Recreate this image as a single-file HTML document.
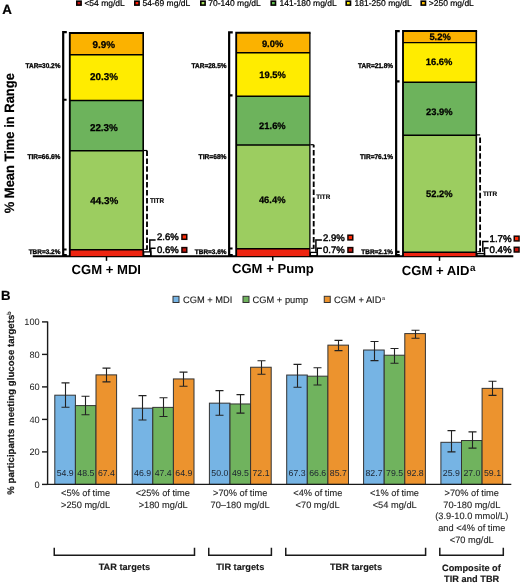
<!DOCTYPE html>
<html><head><meta charset="utf-8"><title>Figure</title>
<style>
html,body{margin:0;padding:0;background:#fff;}
body{width:520px;height:584px;overflow:hidden;}
svg{display:block;font-family:"Liberation Sans",sans-serif;text-rendering:geometricPrecision;}
</style></head><body>
<svg width="520" height="584" viewBox="0 0 520 584">
<rect width="520" height="584" fill="#fff"/>
<rect x="76.8" y="1.2" width="4.3" height="3.9" fill="#c4120e" stroke="#050201" stroke-width="1.6"/>
<text x="104.62" y="6.25" text-anchor="middle" font-size="8.5" fill="#000" stroke="#000" stroke-width="0.2">&lt;54 mg/dL</text>
<rect x="134.79999999999998" y="1.2" width="4.3" height="3.9" fill="#ff1a05" stroke="#050201" stroke-width="1.6"/>
<text x="166.35" y="6.25" text-anchor="middle" font-size="8.5" fill="#000" stroke="#000" stroke-width="0.2">54-69 mg/dL</text>
<rect x="200.79999999999998" y="1.2" width="4.3" height="3.9" fill="#a5e060" stroke="#050201" stroke-width="1.6"/>
<text x="234.50" y="6.25" text-anchor="middle" font-size="8.5" fill="#000" stroke="#000" stroke-width="0.2">70-140 mg/dL</text>
<rect x="271.2" y="1.2" width="4.3" height="3.9" fill="#5fbe4f" stroke="#050201" stroke-width="1.6"/>
<text x="308.10" y="6.25" text-anchor="middle" font-size="8.5" fill="#000" stroke="#000" stroke-width="0.2">141-180 mg/dL</text>
<rect x="346.2" y="1.2" width="4.3" height="3.9" fill="#fff000" stroke="#050201" stroke-width="1.6"/>
<text x="383.20" y="6.25" text-anchor="middle" font-size="8.5" fill="#000" stroke="#000" stroke-width="0.2">181-250 mg/dL</text>
<rect x="421.2" y="1.2" width="4.3" height="3.9" fill="#ffc000" stroke="#050201" stroke-width="1.6"/>
<text x="451.30" y="6.25" text-anchor="middle" font-size="8.5" fill="#000" stroke="#000" stroke-width="0.2">&gt;250 mg/dL</text>
<text x="7.00" y="14.25" text-anchor="middle" font-size="13.4" font-weight="bold" fill="#000" stroke="#000" stroke-width="0.2">A</text>
<text transform="translate(13.7,143.2) rotate(-90)" text-anchor="middle" font-size="13.5" textLength="140.2" lengthAdjust="spacingAndGlyphs" stroke="#000" stroke-width="0.2" font-weight="bold">% Mean Time in Range</text>
<line x1="32.8" y1="256.25" x2="513.3" y2="256.25" stroke="#000" stroke-width="2.1"/>
<rect x="69.8" y="33" width="73.4" height="22.0" fill="#fbb200"/>
<rect x="69.8" y="54.7" width="73.4" height="46.1" fill="#ffec00"/>
<rect x="69.8" y="100.5" width="73.4" height="50.6" fill="#6db35c"/>
<rect x="69.8" y="150.8" width="73.4" height="99.3" fill="#9ccd60"/>
<rect x="69.8" y="249.8" width="73.4" height="6.3" fill="#ee2410"/>
<path d="M69.8 54.7 H143.2 M69.8 100.5 H143.2 M69.8 150.8 H143.2 M69.8 249.8 H143.2" fill="none" stroke="#000" stroke-width="1.45"/>
<path d="M69.8 256.7 V33 H144.0" fill="none" stroke="#000" stroke-width="1.85"/>
<path d="M143.2 33 V256.7" fill="none" stroke="#000" stroke-width="1.6"/>
<path d="M66.8 32.2 H63.2 V255.05 H66.8" fill="none" stroke="#000" stroke-width="2.2"/>
<path d="M63.2 99.7 H66.60000000000001 M63.2 249.5 H66.60000000000001" fill="none" stroke="#000" stroke-width="2.1"/>
<line x1="106.5" y1="256.25" x2="106.5" y2="260.85" stroke="#000" stroke-width="1.5"/>
<path d="M143.7 150.5 H147.0" fill="none" stroke="#000" stroke-width="1.2"/>
<path d="M147.0 150.5 V249.8" fill="none" stroke="#000" stroke-width="1.85" stroke-dasharray="5.5 2.4" stroke-dashoffset="0"/>
<path d="M147.0 249.3 H144.2" fill="none" stroke="#000" stroke-width="1"/>
<rect x="236.2" y="32.7" width="73.7" height="20.4" fill="#fbb200"/>
<rect x="236.2" y="52.8" width="73.7" height="43.7" fill="#ffec00"/>
<rect x="236.2" y="96.2" width="73.7" height="49.1" fill="#6db35c"/>
<rect x="236.2" y="145" width="73.7" height="104.1" fill="#9ccd60"/>
<rect x="236.2" y="248.8" width="73.7" height="7.3" fill="#ee2410"/>
<path d="M236.2 52.8 H309.9 M236.2 96.2 H309.9 M236.2 145 H309.9 M236.2 248.8 H309.9" fill="none" stroke="#000" stroke-width="1.45"/>
<path d="M236.2 256.7 V32.7 H310.54999999999995" fill="none" stroke="#000" stroke-width="1.85"/>
<path d="M309.9 32.7 V256.7" fill="none" stroke="#000" stroke-width="1.3"/>
<path d="M232.75 32.3 H229.15 V255.05 H232.75" fill="none" stroke="#000" stroke-width="2.2"/>
<path d="M229.15 95.4 H232.55 M229.15 248.5 H232.55" fill="none" stroke="#000" stroke-width="2.1"/>
<line x1="272.75" y1="256.25" x2="272.75" y2="260.85" stroke="#000" stroke-width="1.5"/>
<path d="M310.4 144.7 H313.7" fill="none" stroke="#000" stroke-width="1.2"/>
<path d="M313.7 144.7 V248.8" fill="none" stroke="#000" stroke-width="1.85" stroke-dasharray="5.5 2.4" stroke-dashoffset="2.6"/>
<path d="M313.7 248.3 H310.9" fill="none" stroke="#000" stroke-width="1"/>
<rect x="403" y="31" width="73.3" height="11.9" fill="#fbb200"/>
<rect x="403" y="42.6" width="73.3" height="39.9" fill="#ffec00"/>
<rect x="403" y="82.2" width="73.3" height="53.3" fill="#6db35c"/>
<rect x="403" y="135.2" width="73.3" height="117.3" fill="#9ccd60"/>
<rect x="403" y="252.2" width="73.3" height="3.9" fill="#ee2410"/>
<path d="M403 42.6 H476.3 M403 82.2 H476.3 M403 135.2 H476.3 M403 252.2 H476.3" fill="none" stroke="#000" stroke-width="1.45"/>
<path d="M403 256.7 V31 H477.1" fill="none" stroke="#000" stroke-width="1.85"/>
<path d="M476.3 31 V256.7" fill="none" stroke="#000" stroke-width="1.6"/>
<path d="M399.75 31.1 H396.15 V255.05 H399.75" fill="none" stroke="#000" stroke-width="2.2"/>
<path d="M396.15 81.4 H399.54999999999995 M396.15 251.89999999999998 H399.54999999999995" fill="none" stroke="#000" stroke-width="2.1"/>
<line x1="439.5" y1="256.25" x2="439.5" y2="260.85" stroke="#000" stroke-width="1.5"/>
<path d="M476.8 134.89999999999998 H480.1" fill="none" stroke="#000" stroke-width="1.2"/>
<path d="M480.1 134.89999999999998 V252.2" fill="none" stroke="#000" stroke-width="1.85" stroke-dasharray="5.5 2.4" stroke-dashoffset="5.3"/>
<path d="M480.1 251.7 H477.3" fill="none" stroke="#000" stroke-width="1"/>
<text x="103.75" y="47.90" text-anchor="middle" font-size="9.9" font-weight="bold" fill="#000" stroke="#000" stroke-width="0.25">9.9%</text>
<text x="103.95" y="80.40" text-anchor="middle" font-size="9.9" font-weight="bold" fill="#000" stroke="#000" stroke-width="0.25">20.3%</text>
<text x="103.90" y="131.10" text-anchor="middle" font-size="9.9" font-weight="bold" fill="#000" stroke="#000" stroke-width="0.25">22.3%</text>
<text x="104.30" y="204.20" text-anchor="middle" font-size="9.9" font-weight="bold" fill="#000" stroke="#000" stroke-width="0.25">44.3%</text>
<text x="272.60" y="46.60" text-anchor="middle" font-size="9.4" font-weight="bold" fill="#000" stroke="#000" stroke-width="0.25">9.0%</text>
<text x="272.60" y="78.10" text-anchor="middle" font-size="9.4" font-weight="bold" fill="#000" stroke="#000" stroke-width="0.25">19.5%</text>
<text x="272.40" y="129.20" text-anchor="middle" font-size="9.4" font-weight="bold" fill="#000" stroke="#000" stroke-width="0.25">21.6%</text>
<text x="272.20" y="202.50" text-anchor="middle" font-size="9.4" font-weight="bold" fill="#000" stroke="#000" stroke-width="0.25">46.4%</text>
<text x="440.10" y="40.00" text-anchor="middle" font-size="9.4" font-weight="bold" fill="#000" stroke="#000" stroke-width="0.25">5.2%</text>
<text x="439.10" y="65.10" text-anchor="middle" font-size="9.4" font-weight="bold" fill="#000" stroke="#000" stroke-width="0.25">16.6%</text>
<text x="439.30" y="115.20" text-anchor="middle" font-size="9.4" font-weight="bold" fill="#000" stroke="#000" stroke-width="0.25">23.9%</text>
<text x="439.30" y="196.70" text-anchor="middle" font-size="9.4" font-weight="bold" fill="#000" stroke="#000" stroke-width="0.25">52.2%</text>
<text x="149.9" y="202.6" font-size="7.0" font-weight="bold" textLength="14.2" lengthAdjust="spacingAndGlyphs" stroke="#000" stroke-width="0.15">TITR</text>
<text x="316.3" y="198.8" font-size="6.6" font-weight="bold" textLength="13.9" lengthAdjust="spacingAndGlyphs" stroke="#000" stroke-width="0.15">TITR</text>
<text x="482.90000000000003" y="195.95" font-size="6.6" font-weight="bold" textLength="14.2" lengthAdjust="spacingAndGlyphs" stroke="#000" stroke-width="0.15">TITR</text>
<text x="25.5" y="67.8" font-size="7.0" font-weight="bold" textLength="34.9" lengthAdjust="spacingAndGlyphs" stroke="#000" stroke-width="0.32">TAR=30.2%</text>
<text x="27.5" y="159.3" font-size="7.0" font-weight="bold" textLength="32.9" lengthAdjust="spacingAndGlyphs" stroke="#000" stroke-width="0.32">TIR=66.6%</text>
<text x="28.7" y="253.8" font-size="6.7" font-weight="bold" textLength="31.7" lengthAdjust="spacingAndGlyphs" stroke="#000" stroke-width="0.32">TBR=3.2%</text>
<text x="191.6" y="67.8" font-size="7.0" font-weight="bold" textLength="34.9" lengthAdjust="spacingAndGlyphs" stroke="#000" stroke-width="0.32">TAR=28.5%</text>
<text x="198.6" y="159.0" font-size="7.0" font-weight="bold" textLength="27.9" lengthAdjust="spacingAndGlyphs" stroke="#000" stroke-width="0.32">TIR=68%</text>
<text x="194.8" y="253.8" font-size="6.7" font-weight="bold" textLength="31.7" lengthAdjust="spacingAndGlyphs" stroke="#000" stroke-width="0.32">TBR=3.6%</text>
<text x="358.1" y="67.8" font-size="7.0" font-weight="bold" textLength="34.9" lengthAdjust="spacingAndGlyphs" stroke="#000" stroke-width="0.32">TAR=21.8%</text>
<text x="360.1" y="159.3" font-size="7.0" font-weight="bold" textLength="32.9" lengthAdjust="spacingAndGlyphs" stroke="#000" stroke-width="0.32">TIR=76.1%</text>
<text x="361.3" y="253.8" font-size="6.7" font-weight="bold" textLength="31.7" lengthAdjust="spacingAndGlyphs" stroke="#000" stroke-width="0.32">TBR=2.1%</text>
<path d="M149.8 251.65 V239.9 H155.6" fill="none" stroke="#000" stroke-width="1.5"/>
<rect x="143.7" y="251.9" width="7.1" height="3.8" fill="#fff" stroke="#000" stroke-width="1.3"/>
<path d="M150.8 256.25 V248.2 H155.6" fill="none" stroke="#000" stroke-width="1.5"/>
<text x="167.80" y="240.40" text-anchor="middle" font-size="9.5" fill="#000" stroke="#000" stroke-width="0.45">2.6%</text>
<text x="167.80" y="253.40" text-anchor="middle" font-size="9.5" fill="#000" stroke="#000" stroke-width="0.45">0.6%</text>
<rect x="181.95" y="234.6" width="4.8" height="4.7" fill="#ff2a05" stroke="#140503" stroke-width="1.5"/>
<rect x="181.95" y="247.6" width="4.8" height="4.7" fill="#c4140c" stroke="#140503" stroke-width="1.5"/>
<path d="M315.9 251.65 V240.0 H321.9" fill="none" stroke="#000" stroke-width="1.5"/>
<rect x="310.4" y="252.4" width="6.9" height="3.3" fill="#fff" stroke="#000" stroke-width="1.3"/>
<path d="M317.3 256.25 V248.2 H321.9" fill="none" stroke="#000" stroke-width="1.5"/>
<text x="333.80" y="240.70" text-anchor="middle" font-size="9.5" fill="#000" stroke="#000" stroke-width="0.45">2.9%</text>
<text x="333.80" y="253.40" text-anchor="middle" font-size="9.5" fill="#000" stroke="#000" stroke-width="0.45">0.7%</text>
<rect x="347.95" y="235.2" width="4.8" height="4.7" fill="#ff2a05" stroke="#140503" stroke-width="1.5"/>
<rect x="347.95" y="247.6" width="4.8" height="4.7" fill="#c4140c" stroke="#140503" stroke-width="1.5"/>
<path d="M482.8 251.65 V241.5 H488.6" fill="none" stroke="#000" stroke-width="1.5"/>
<rect x="477.0" y="253.6" width="7.5" height="2.2" fill="#fff" stroke="#000" stroke-width="1.3"/>
<path d="M484.5 256.25 V248.0 H488.6" fill="none" stroke="#000" stroke-width="1.5"/>
<text x="500.55" y="241.50" text-anchor="middle" font-size="9.7" fill="#000" stroke="#000" stroke-width="0.45">1.7%</text>
<text x="500.55" y="253.10" text-anchor="middle" font-size="9.7" fill="#000" stroke="#000" stroke-width="0.45">0.4%</text>
<rect x="514.25" y="236.2" width="4.8" height="4.7" fill="#ff2a05" stroke="#140503" stroke-width="1.5"/>
<rect x="514.25" y="247.3" width="4.8" height="4.7" fill="#c4140c" stroke="#140503" stroke-width="1.5"/>
<text x="106.25" y="273.50" text-anchor="middle" font-size="13.1" font-weight="bold" fill="#000">CGM + MDI</text>
<text x="272.88" y="273.25" text-anchor="middle" font-size="13.1" font-weight="bold" fill="#000">CGM + Pump</text>
<text x="435.62" y="275.00" text-anchor="middle" font-size="13.1" font-weight="bold" fill="#000">CGM + AID</text>
<text x="472.75" y="270.50" text-anchor="middle" font-size="9.8" font-weight="bold" fill="#000">a</text>
<text x="5.72" y="299.75" text-anchor="middle" font-size="13.2" font-weight="bold" fill="#000" stroke="#000" stroke-width="0.2">B</text>
<text transform="translate(14.3,494.7) rotate(-90)" font-size="9.55" font-weight="bold" fill="#1a1a1a" textLength="179.9" lengthAdjust="spacing" stroke="#1a1a1a" stroke-width="0.2">% participants meeting glucose targets</text>
<text transform="translate(11.2,314.9) rotate(-90)" font-size="6" font-weight="bold" fill="#1a1a1a">b</text>
<rect x="173.0" y="296.3" width="6" height="6.2" fill="#76b4e4" stroke="#333" stroke-width="1"/>
<text x="207.62" y="303.00" text-anchor="middle" font-size="9.3" fill="#1a1a1a" stroke="#1a1a1a" stroke-width="0.12">CGM + MDI</text>
<rect x="243.0" y="296.3" width="6" height="6.2" fill="#70b35e" stroke="#333" stroke-width="1"/>
<text x="280.38" y="303.00" text-anchor="middle" font-size="9.3" fill="#1a1a1a" stroke="#1a1a1a" stroke-width="0.12">CGM + pump</text>
<rect x="324.25" y="296.3" width="6" height="6.2" fill="#ec932e" stroke="#333" stroke-width="1"/>
<text x="357.75" y="303.00" text-anchor="middle" font-size="9.3" fill="#1a1a1a" stroke="#1a1a1a" stroke-width="0.12">CGM + AID</text>
<text x="383.50" y="300.00" text-anchor="middle" font-size="5.5" fill="#1a1a1a">a</text>
<line x1="42" x2="47.6" y1="484.4" y2="484.4" stroke="#1a1a1a" stroke-width="1.4"/>
<text x="39.7" y="487.8" text-anchor="end" font-size="9.25" fill="#1a1a1a">0</text>
<line x1="42" x2="47.6" y1="451.9" y2="451.9" stroke="#1a1a1a" stroke-width="1.4"/>
<text x="39.7" y="455.3" text-anchor="end" font-size="9.25" fill="#1a1a1a">20</text>
<line x1="42" x2="47.6" y1="419.4" y2="419.4" stroke="#1a1a1a" stroke-width="1.4"/>
<text x="39.7" y="422.8" text-anchor="end" font-size="9.25" fill="#1a1a1a">40</text>
<line x1="42" x2="47.6" y1="386.9" y2="386.9" stroke="#1a1a1a" stroke-width="1.4"/>
<text x="39.7" y="390.3" text-anchor="end" font-size="9.25" fill="#1a1a1a">60</text>
<line x1="42" x2="47.6" y1="354.4" y2="354.4" stroke="#1a1a1a" stroke-width="1.4"/>
<text x="39.7" y="357.8" text-anchor="end" font-size="9.25" fill="#1a1a1a">80</text>
<line x1="42" x2="47.6" y1="321.9" y2="321.9" stroke="#1a1a1a" stroke-width="1.4"/>
<text x="39.7" y="325.3" text-anchor="end" font-size="9.25" fill="#1a1a1a">100</text>
<rect x="54.80" y="395.19" width="20.6" height="89.21" fill="#76b4e4" stroke="#333" stroke-width="1"/>
<rect x="75.40" y="405.59" width="20.6" height="78.81" fill="#70b35e" stroke="#333" stroke-width="1"/>
<rect x="96.00" y="374.88" width="20.6" height="109.52" fill="#ec932e" stroke="#333" stroke-width="1"/>
<path d="M65.5 382.9 V407.3 M61.50 382.9 H69.50 M61.50 407.3 H69.50" fill="none" stroke="#222" stroke-width="1.1"/>
<text x="65.20" y="476.1" text-anchor="middle" font-size="8.75" fill="#1c2430">54.9</text>
<path d="M85.5 396.2 V414.8 M81.50 396.2 H89.50 M81.50 414.8 H89.50" fill="none" stroke="#222" stroke-width="1.1"/>
<text x="85.80" y="476.1" text-anchor="middle" font-size="8.75" fill="#1c2430">48.5</text>
<path d="M106.5 368.1 V381.9 M102.50 368.1 H110.50 M102.50 381.9 H110.50" fill="none" stroke="#222" stroke-width="1.1"/>
<text x="106.40" y="476.1" text-anchor="middle" font-size="8.75" fill="#1c2430">67.4</text>
<rect x="132.20" y="408.19" width="20.6" height="76.21" fill="#76b4e4" stroke="#333" stroke-width="1"/>
<rect x="152.80" y="407.38" width="20.6" height="77.02" fill="#70b35e" stroke="#333" stroke-width="1"/>
<rect x="173.40" y="378.94" width="20.6" height="105.46" fill="#ec932e" stroke="#333" stroke-width="1"/>
<path d="M142.5 395.6 V420.0 M138.50 395.6 H146.50 M138.50 420.0 H146.50" fill="none" stroke="#222" stroke-width="1.1"/>
<text x="142.60" y="476.1" text-anchor="middle" font-size="8.75" fill="#1c2430">46.9</text>
<path d="M163.5 397.7 V416.5 M159.50 397.7 H167.50 M159.50 416.5 H167.50" fill="none" stroke="#222" stroke-width="1.1"/>
<text x="163.20" y="476.1" text-anchor="middle" font-size="8.75" fill="#1c2430">47.4</text>
<path d="M183.5 372.1 V386.2 M179.50 372.1 H187.50 M179.50 386.2 H187.50" fill="none" stroke="#222" stroke-width="1.1"/>
<text x="183.80" y="476.1" text-anchor="middle" font-size="8.75" fill="#1c2430">64.9</text>
<rect x="209.40" y="403.15" width="20.6" height="81.25" fill="#76b4e4" stroke="#333" stroke-width="1"/>
<rect x="230.00" y="403.96" width="20.6" height="80.44" fill="#70b35e" stroke="#333" stroke-width="1"/>
<rect x="250.60" y="367.24" width="20.6" height="117.16" fill="#ec932e" stroke="#333" stroke-width="1"/>
<path d="M219.5 390.6 V415.2 M215.50 390.6 H223.50 M215.50 415.2 H223.50" fill="none" stroke="#222" stroke-width="1.1"/>
<text x="219.80" y="476.1" text-anchor="middle" font-size="8.75" fill="#1c2430">50.0</text>
<path d="M240.5 394.6 V413.1 M236.50 394.6 H244.50 M236.50 413.1 H244.50" fill="none" stroke="#222" stroke-width="1.1"/>
<text x="240.40" y="476.1" text-anchor="middle" font-size="8.75" fill="#1c2430">49.5</text>
<path d="M261.5 360.8 V374.2 M257.50 360.8 H265.50 M257.50 374.2 H265.50" fill="none" stroke="#222" stroke-width="1.1"/>
<text x="261.00" y="476.1" text-anchor="middle" font-size="8.75" fill="#1c2430">72.1</text>
<rect x="286.70" y="375.04" width="20.6" height="109.36" fill="#76b4e4" stroke="#333" stroke-width="1"/>
<rect x="307.30" y="376.17" width="20.6" height="108.23" fill="#70b35e" stroke="#333" stroke-width="1"/>
<rect x="327.90" y="345.14" width="20.6" height="139.26" fill="#ec932e" stroke="#333" stroke-width="1"/>
<path d="M297.5 364.4 V387.3 M293.50 364.4 H301.50 M293.50 387.3 H301.50" fill="none" stroke="#222" stroke-width="1.1"/>
<text x="297.10" y="476.1" text-anchor="middle" font-size="8.75" fill="#1c2430">67.3</text>
<path d="M317.5 367.7 V385.0 M313.50 367.7 H321.50 M313.50 385.0 H321.50" fill="none" stroke="#222" stroke-width="1.1"/>
<text x="317.70" y="476.1" text-anchor="middle" font-size="8.75" fill="#1c2430">66.6</text>
<path d="M338.5 340.4 V350.6 M334.50 340.4 H342.50 M334.50 350.6 H342.50" fill="none" stroke="#222" stroke-width="1.1"/>
<text x="338.30" y="476.1" text-anchor="middle" font-size="8.75" fill="#1c2430">85.7</text>
<rect x="363.60" y="350.01" width="20.6" height="134.39" fill="#76b4e4" stroke="#333" stroke-width="1"/>
<rect x="384.20" y="355.21" width="20.6" height="129.19" fill="#70b35e" stroke="#333" stroke-width="1"/>
<rect x="404.80" y="333.60" width="20.6" height="150.80" fill="#ec932e" stroke="#333" stroke-width="1"/>
<path d="M374.5 341.5 V360.6 M370.50 341.5 H378.50 M370.50 360.6 H378.50" fill="none" stroke="#222" stroke-width="1.1"/>
<text x="374.00" y="476.1" text-anchor="middle" font-size="8.75" fill="#1c2430">82.7</text>
<path d="M394.5 348.5 V363.3 M390.50 348.5 H398.50 M390.50 363.3 H398.50" fill="none" stroke="#222" stroke-width="1.1"/>
<text x="394.60" y="476.1" text-anchor="middle" font-size="8.75" fill="#1c2430">79.5</text>
<path d="M415.5 330.2 V338.3 M411.50 330.2 H419.50 M411.50 338.3 H419.50" fill="none" stroke="#222" stroke-width="1.1"/>
<text x="415.20" y="476.1" text-anchor="middle" font-size="8.75" fill="#1c2430">92.8</text>
<rect x="440.90" y="442.31" width="20.6" height="42.09" fill="#76b4e4" stroke="#333" stroke-width="1"/>
<rect x="461.50" y="440.52" width="20.6" height="43.88" fill="#70b35e" stroke="#333" stroke-width="1"/>
<rect x="482.10" y="388.36" width="20.6" height="96.04" fill="#ec932e" stroke="#333" stroke-width="1"/>
<path d="M451.5 430.6 V451.9 M447.50 430.6 H455.50 M447.50 451.9 H455.50" fill="none" stroke="#222" stroke-width="1.1"/>
<text x="451.30" y="476.1" text-anchor="middle" font-size="8.75" fill="#1c2430">25.9</text>
<path d="M472.5 431.9 V448.1 M468.50 431.9 H476.50 M468.50 448.1 H476.50" fill="none" stroke="#222" stroke-width="1.1"/>
<text x="471.90" y="476.1" text-anchor="middle" font-size="8.75" fill="#1c2430">27.0</text>
<path d="M492.5 381.2 V395.4 M488.50 381.2 H496.50 M488.50 395.4 H496.50" fill="none" stroke="#222" stroke-width="1.1"/>
<text x="492.50" y="476.1" text-anchor="middle" font-size="8.75" fill="#1c2430">59.1</text>
<path d="M47.6 321.4 V484.4 H511.3" fill="none" stroke="#1a1a1a" stroke-width="1.4"/>
<text x="85.55" y="496.30" text-anchor="middle" font-size="9.25" fill="#262626" stroke="#262626" stroke-width="0.12">&lt;5% of time</text>
<text x="85.55" y="507.90" text-anchor="middle" font-size="9.25" fill="#262626" stroke="#262626" stroke-width="0.12">&gt;250 mg/dL</text>
<text x="162.80" y="496.30" text-anchor="middle" font-size="9.25" fill="#262626" stroke="#262626" stroke-width="0.12">&lt;25% of time</text>
<text x="163.20" y="507.90" text-anchor="middle" font-size="9.25" fill="#262626" stroke="#262626" stroke-width="0.12">&gt;180 mg/dL</text>
<text x="240.20" y="496.30" text-anchor="middle" font-size="9.25" fill="#262626" stroke="#262626" stroke-width="0.12">&gt;70% of time</text>
<text x="240.10" y="507.90" text-anchor="middle" font-size="9.25" fill="#262626" stroke="#262626" stroke-width="0.12">70–180 mg/dL</text>
<text x="317.80" y="496.30" text-anchor="middle" font-size="9.25" fill="#262626" stroke="#262626" stroke-width="0.12">&lt;4% of time</text>
<text x="317.60" y="507.90" text-anchor="middle" font-size="9.25" fill="#262626" stroke="#262626" stroke-width="0.12">&lt;70 mg/dL</text>
<text x="394.45" y="496.30" text-anchor="middle" font-size="9.25" fill="#262626" stroke="#262626" stroke-width="0.12">&lt;1% of time</text>
<text x="394.70" y="507.90" text-anchor="middle" font-size="9.25" fill="#262626" stroke="#262626" stroke-width="0.12">&lt;54 mg/dL</text>
<text x="471.70" y="496.30" text-anchor="middle" font-size="9.25" fill="#262626" stroke="#262626" stroke-width="0.12">&gt;70% of time</text>
<text x="471.85" y="507.90" text-anchor="middle" font-size="9.25" fill="#262626" stroke="#262626" stroke-width="0.12">70-180 mg/dL</text>
<text x="471.75" y="519.40" text-anchor="middle" font-size="9.25" fill="#262626" stroke="#262626" stroke-width="0.12">(3.9-10.0 mmol/L)</text>
<text x="471.75" y="530.90" text-anchor="middle" font-size="9.25" fill="#262626" stroke="#262626" stroke-width="0.12">and &lt;4% of time</text>
<text x="471.75" y="542.80" text-anchor="middle" font-size="9.25" fill="#262626" stroke="#262626" stroke-width="0.12">&lt;70 mg/dL</text>
<g fill="none" stroke="#1a1a1a" stroke-width="1.5">
<path d="M54.25 547.8 V555.3 H194.5 V547.8"/>
<path d="M208.75 547.8 V555.3 H271.4 V547.8"/>
<path d="M285.75 547.8 V555.3 H425.6 V547.8"/>
<path d="M439.8 547.8 V555.3 H503.3 V547.8"/>
</g>
<text x="124.38" y="570.00" text-anchor="middle" font-size="9.2" font-weight="bold" fill="#1a1a1a" stroke="#1a1a1a" stroke-width="0.15">TAR targets</text>
<text x="240.25" y="570.00" text-anchor="middle" font-size="9.2" font-weight="bold" fill="#1a1a1a" stroke="#1a1a1a" stroke-width="0.15">TIR targets</text>
<text x="356.00" y="570.00" text-anchor="middle" font-size="9.2" font-weight="bold" fill="#1a1a1a" stroke="#1a1a1a" stroke-width="0.15">TBR targets</text>
<text x="471.45" y="570.50" text-anchor="middle" font-size="9.2" font-weight="bold" fill="#1a1a1a" stroke="#1a1a1a" stroke-width="0.15">Composite of</text>
<text x="471.60" y="581.70" text-anchor="middle" font-size="9.2" font-weight="bold" fill="#1a1a1a" stroke="#1a1a1a" stroke-width="0.15">TIR and TBR</text>
</svg>
</body></html>
